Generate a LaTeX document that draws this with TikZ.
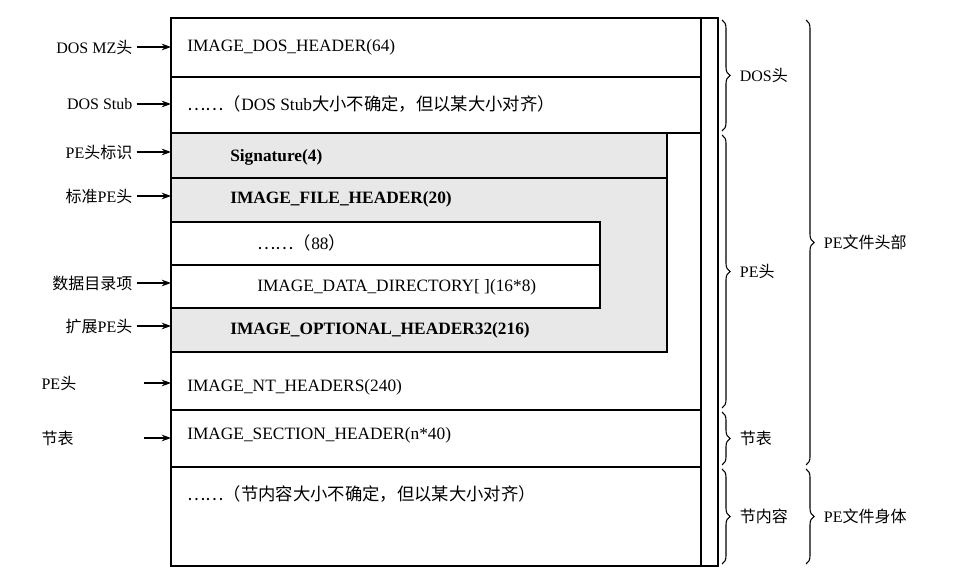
\documentclass[tikz,border=0pt]{standalone}
\usepackage{fontspec}
\setmainfont{Liberation Serif}
\newfontfamily\cjk{Noto Sans CJK SC}
\newcommand{\zh}[1]{{\cjk #1}}
\usetikzlibrary{arrows.meta,decorations.pathreplacing}
\begin{document}
\begin{tikzpicture}[x=0.75pt,y=-0.75pt,
  lbl/.style={anchor=east,font=\fontsize{12}{14}\selectfont,inner sep=1pt},
  txt/.style={anchor=west,font=\fontsize{13}{15}\selectfont,inner sep=0pt},
  rlbl/.style={font=\fontsize{12}{14}\selectfont,inner sep=1pt},
  arr/.style={-{Stealth[length=7pt,width=5pt]},line width=0.8pt},
  brc/.style={decorate,decoration={brace,amplitude=6pt},line width=0.8pt},
  box/.style={draw,line width=0.8pt}]
\useasboundingbox (0,0) rectangle (956,580);
% gray area
\fill[gray!18] (171,133) rectangle (667,352);
\draw[box,fill=white] (171,222) rectangle (600,308);
\draw[box] (171,265) -- (600,265);
\draw[box] (171,133) rectangle (667,352);
\draw[box] (171,178) -- (667,178);
% outer
\draw[box] (171,18) rectangle (718,566);
\draw[box] (701,18) -- (701,566);
\draw[box] (171,77) -- (701,77);
\draw[box] (171,133) -- (701,133);
\draw[box] (171,410) -- (701,410);
\draw[box] (171,467) -- (701,467);
% texts
\node[txt] (t1) at (187,47) {IMAGE\_DOS\_HEADER(64)};
\node[txt] (t2) at (187,104) {\zh{……（}DOS Stub\zh{大小不确定，但以某大小对齐）}};
\node[txt] (t3) at (230,157) {\bfseries Signature(4)};
\node[txt] (t4) at (230,199) {\bfseries IMAGE\_FILE\_HEADER(20)};
\node[txt] (t5) at (257,243) {\zh{……（}88\zh{）}};
\node[txt] (t6) at (257,287) {IMAGE\_DATA\_DIRECTORY[ ](16*8)};
\node[txt] (t7) at (230,330) {\bfseries IMAGE\_OPTIONAL\_HEADER32(216)};
\node[txt] (t8) at (187,387) {IMAGE\_NT\_HEADERS(240)};
\node[txt] (t9) at (187,435) {IMAGE\_SECTION\_HEADER(n*40)};
\node[txt] (t10) at (187,494) {\zh{……（节内容大小不确定，但以某大小对齐）}};
% left labels and arrows
\foreach \n/\y/\t in {a/47/DOS MZ\zh{头}, b/104/DOS Stub, c/152/PE\zh{头标识}, d/196/\zh{标准}PE\zh{头}, e/283/\zh{数据目录项}, f/326/\zh{扩展}PE\zh{头}}{
  \node[lbl] (l\n) at (134,\y) {\t};
  \coordinate (p\n) at (171,\y);
  \draw[arr] ([xshift=2pt]l\n.east) -- (p\n);
}
\node[lbl,anchor=west] (lg) at (40,383) {PE\zh{头}};
\coordinate (pg) at (171,383);
\coordinate (sg) at (144,383);
\draw[arr] (sg) -- (pg);
\node[lbl,anchor=west] (lh) at (40,438) {\zh{节表}};
\coordinate (ph) at (171,438);
\coordinate (sh) at (144,438);
\draw[arr] (sh) -- (ph);
% right braces
\draw[brc] (722,20) -- (722,131) node[midway,anchor=west,xshift=12pt,rlbl] (r1) {DOS\zh{头}};
\draw[brc] (722,135) -- (722,408) node[midway,anchor=west,xshift=12pt,rlbl] (r2) {PE\zh{头}};
\draw[brc] (722,412) -- (722,465) node[midway,anchor=west,xshift=12pt,rlbl] (r3) {\zh{节表}};
\draw[brc] (722,469) -- (722,564) node[midway,anchor=west,xshift=12pt,rlbl] (r4) {\zh{节内容}};
\draw[brc] (806,20) -- (806,465) node[midway,anchor=west,xshift=12pt,rlbl] (r5) {PE\zh{文件头部}};
\draw[brc] (806,469) -- (806,564) node[midway,anchor=west,xshift=12pt,rlbl] (r6) {PE\zh{文件身体}};
\end{tikzpicture}
\end{document}
